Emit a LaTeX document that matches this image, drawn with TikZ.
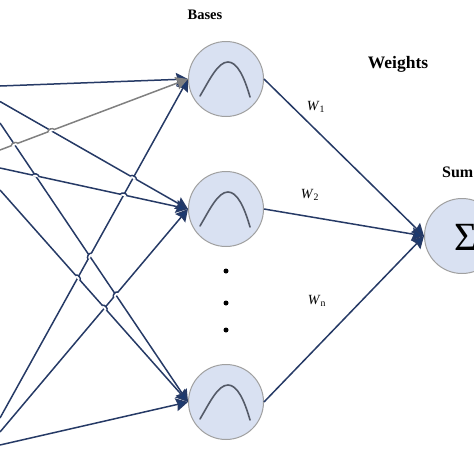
\documentclass[tikz,border=0pt]{standalone}
\usepackage{fontspec}
\setmainfont{Liberation Serif}
\usepackage{amsmath,amssymb}
\usetikzlibrary{arrows.meta,positioning,calc}
\definecolor{linkblue}{RGB}{38,58,102}
\definecolor{headblue}{RGB}{28,58,112}
\definecolor{basefill}{RGB}{217,225,242}
\definecolor{baseline}{RGB}{160,160,160}
\definecolor{bellgrey}{RGB}{84,90,104}
\tikzset{
    basenode/.style={circle, draw=baseline, fill=basefill, line width=1pt, minimum size=75pt, inner sep=0pt},
    link/.style={draw=linkblue, line width=1.5pt, -{Stealth[length=12pt,width=13pt,inset=1.5pt,fill=headblue]}},
    greylink/.style={draw=gray, line width=1.5pt, -{Stealth[length=12pt,width=13pt,inset=1.5pt,fill=gray]}},
    heading/.style={font=\bfseries\fontsize{16}{18}\selectfont},
    weightlabel/.style={font=\fontsize{14}{16}\selectfont},
    dotnode/.style={circle, fill=black, minimum size=5pt, inner sep=0pt}
}
% #1--#2 hops over #3--#4, colour #5
\newcommand{\hop}[5]{
    \coordinate (X) at (intersection of #1--#2 and #3--#4);
    \draw[white, line width=2pt] ($(X)!3pt!(#1)$) -- ($(X)!3pt!(#2)$);
    \draw[#5, line width=1.4pt] ($(X)!3.5pt!(#1)$) to[bend left=70] ($(X)!3.5pt!(#2)$);
}
\begin{document}
\begin{tikzpicture}[x=1pt, y=-1pt]
    \useasboundingbox (0,0) rectangle (474,474);
    % Bases
    \node[basenode] (base1) at (226,79) {};
    \node[basenode] (base2) at (226,209) {};
    \node[basenode] (base3) at (226,402) {};
    \foreach \b in {base1,base2,base3} {
        \draw[bellgrey, line width=1.6pt, line cap=round, shift={(\b.center)}]
            (-26,17) .. controls (-16,0) and (-8,-17) .. (2,-17)
            .. controls (11,-17) and (18,-3) .. (24,18);
    }
    \node[heading, font=\bfseries\fontsize{14.5}{16}\selectfont] (baseshead) at (205,15) {Bases};
    % Sum
    \node[basenode] (sum) at (462,236) {};
    \node[font=\fontsize{40}{42}\selectfont, anchor=west, inner sep=0pt] (sigma) at (454,237) {Σ};
    \node[heading, anchor=west, inner sep=0pt] (sumhead) at (442,172) {Sum};
    \node[heading, font=\bfseries\fontsize{17.5}{19}\selectfont] (weightshead) at (398,64) {Weights};
    % Free ends on the left
    \coordinate (in1) at (0,86);
    \coordinate (in2) at (0,101.5);
    \coordinate (in3) at (0,123);
    \coordinate (in4) at (0,150);
    \coordinate (in5) at (0,168);
    \coordinate (in6) at (0,190);
    \coordinate (in7) at (0,418);
    \coordinate (in8) at (0,432);
    \coordinate (in9) at (0,445);
    \coordinate (b1) at (base1.west);
    \coordinate (b2) at (base2.west);
    \coordinate (b3) at (base3.west);
    % Inputs
    \draw[link] (in1) -- (base1.west);
    \draw[link] (in7) -- (base1.west);
    \draw[greylink] (in4) -- (base1.west);
    \draw[link] (in2) -- (base2.west);
    \draw[link] (in5) -- (base2.west);
    \draw[link] (in8) -- (base2.west);
    \draw[link] (in3) -- (base3.west);
    \draw[link] (in6) -- (base3.west);
    \draw[link] (in9) -- (base3.west);
    % Hops at the crossings
    \hop{in4}{b1}{in3}{b3}{gray}
    \hop{in4}{b1}{in2}{b2}{gray}
    \hop{in5}{b2}{in3}{b3}{linkblue}
    \hop{in5}{b2}{in7}{b1}{linkblue}
    \hop{in2}{b2}{in7}{b1}{linkblue}
    \hop{in7}{b1}{in3}{b3}{linkblue}
    \hop{in6}{b3}{in7}{b1}{linkblue}
    \hop{in8}{b2}{in3}{b3}{linkblue}
    \hop{in6}{b3}{in8}{b2}{linkblue}
    % Weights
    \draw[link] (base1.east) -- (sum.west);
    \draw[link] (base2.east) -- (sum.west);
    \draw[link] (base3.east) -- (sum.west);
    \node[weightlabel] (w1) at (316,107) {\textit{W}\textsubscript{1}};
    \node[weightlabel] (w2) at (310,195) {\textit{W}\textsubscript{2}};
    \node[weightlabel] (wn) at (317,301) {\textit{W}\textsubscript{n}};
    % Dots
    \node[dotnode] (dot1) at (226,271) {};
    \node[dotnode] (dot2) at (226,303) {};
    \node[dotnode] (dot3) at (226,330) {};
\end{tikzpicture}
\end{document}
